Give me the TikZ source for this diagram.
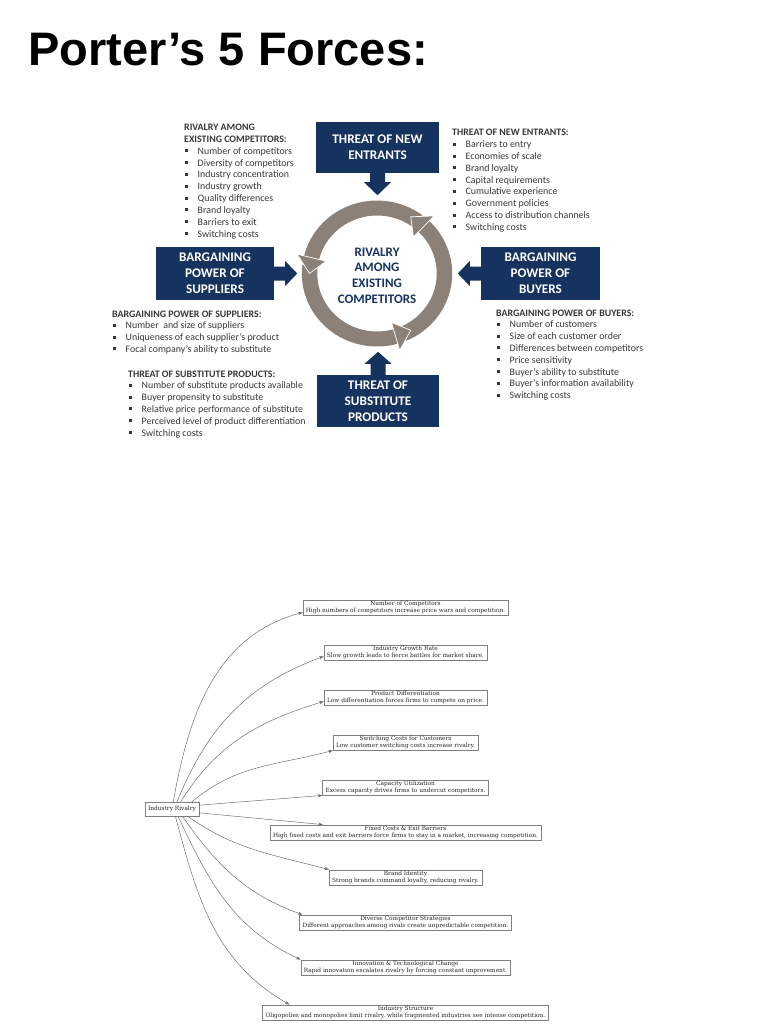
\documentclass[tikz,border=0pt]{standalone}
\usepackage{fontspec}
\setmainfont{Carlito}
\newfontfamily\titrefont{Liberation Sans}
\newfontfamily\gvfont{DejaVu Serif}
\usetikzlibrary{arrows.meta, calc}

\definecolor{marine}{RGB}{22,50,94}
\definecolor{anneau}{RGB}{140,129,121}
\newcommand{\puce}{\makebox[13.5pt][l]{\hspace{0.5pt}\rule[2pt]{3pt}{3pt}}}

\begin{document}
\begin{tikzpicture}[
  x=1pt, y=1pt,
  force/.style={
    fill=marine, text=white, font=\bfseries\fontsize{13.2}{16}\selectfont,
    align=center, inner sep=0pt, minimum width=122pt, minimum height=52pt
  },
  liste/.style={
    anchor=base west, inner sep=0pt, align=left,
    font=\fontsize{9.9}{11.8}\selectfont, text=black!78
  },
  cause/.style={
    draw=black!50, line width=0.5pt, fill=white, align=center,
    font=\gvfont\fontsize{5.85}{7.6}\selectfont, text=black!85,
    inner xsep=3pt, inner ysep=1pt
  },
  lien/.style={
    -{Stealth[length=4.5pt, width=3.2pt]},
    line width=0.45pt, draw=black!60
  },
  fleche/.style={fill=marine},
  segment/.style={fill=anneau},
  pointe/.style={fill=anneau, draw=white, line width=0.7pt}
]
  \useasboundingbox[fill=white] (0,0) rectangle (768,-1024);

  \node[anchor=base west, inner sep=0pt, font=\titrefont\bfseries\fontsize{47}{50}\selectfont] (titre) at (28,-66) {Porter’s 5 Forces:};

  % the five forces
  \node[force, minimum width=123pt, minimum height=51pt] (ent) at (377.5,-147.5) {THREAT OF NEW\\ENTRANTS};
  \node[force, minimum width=118pt, minimum height=53pt] (sup) at (215,-273.5) {BARGAINING\\POWER OF\\SUPPLIERS};
  \node[force, minimum width=119pt, minimum height=53pt] (buy) at (540.5,-273.5) {BARGAINING\\POWER OF\\BUYERS};
  \node[force] (sub) at (378,-401) {THREAT OF\\SUBSTITUTE\\PRODUCTS};

  \fill[fleche] (ent.south) ++(-7.5,0) -- ++(0,-9) -- ++(-6,0) -- ++(13.5,-13) -- ++(13.5,13) -- ++(-6,0) -- ++(0,9) -- cycle;
  \fill[fleche] (sub.north) ++(-7.5,0) -- ++(0,11) -- ++(-6,0) -- ++(13.5,12) -- ++(13.5,-12) -- ++(-6,0) -- ++(0,-11) -- cycle;
  \fill[fleche] (sup.east) ++(0,7) -- ++(11,0) -- ++(0,5.5) -- ++(12,-12.5) -- ++(-12,-12.5) -- ++(0,5.5) -- ++(-11,0) -- cycle;
  \fill[fleche] (buy.west) ++(0,7) -- ++(-11,0) -- ++(0,5.5) -- ++(-12,-12.5) -- ++(12,-12.5) -- ++(0,5.5) -- ++(11,0) -- cycle;

  % rivalry ring
  \begin{scope}[shift={(377,-273.5)}, xscale=1.03]
    \fill[segment] (-67:73) arc[start angle=-67, end angle=46, radius=73] -- (46:58) arc[start angle=46, end angle=-67, radius=58] -- cycle;
    \fill[segment] (53:73) arc[start angle=53, end angle=166, radius=73] -- (166:58) arc[start angle=166, end angle=53, radius=58] -- cycle;
    \fill[segment] (173:73) arc[start angle=173, end angle=286, radius=73] -- (286:58) arc[start angle=286, end angle=173, radius=58] -- cycle;
    \filldraw[pointe] (46:80) -- (60:65.5) -- (46:51) -- cycle;
    \filldraw[pointe] (166:80) -- (180:65.5) -- (166:51) -- cycle;
    \filldraw[pointe] (286:80) -- (300:65.5) -- (286:51) -- cycle;
  \end{scope}
  \node[font=\bfseries\fontsize{13}{15.7}\selectfont, text=marine, align=center, inner sep=0pt] (riv) at (377,-275.5) {RIVALRY\\AMONG\\EXISTING\\COMPETITORS};

  % factor lists (anchored on their last line)
  \node[liste] (lriv) at (184,-237) {\textbf{RIVALRY AMONG}\\\textbf{EXISTING COMPETITORS:}\\
    \puce Number of competitors\\\puce Diversity of competitors\\\puce Industry concentration\\
    \puce Industry growth\\\puce Quality differences\\\puce Brand loyalty\\
    \puce Barriers to exit\\\puce Switching costs};
  \node[liste] (lent) at (452,-230.4) {\textbf{THREAT OF NEW ENTRANTS:}\\
    \puce Barriers to entry\\\puce Economies of scale\\\puce Brand loyalty\\
    \puce Capital requirements\\\puce Cumulative experience\\\puce Government policies\\
    \puce Access to distribution channels\\\puce Switching costs};
  \node[liste] (lsup) at (112,-352.4) {\textbf{BARGAINING POWER OF SUPPLIERS:}\\
    \puce Number~ and size of suppliers\\\puce Uniqueness of each supplier’s product\\
    \puce Focal company’s ability to substitute};
  \node[liste] (lsub) at (128,-436) {\textbf{THREAT OF SUBSTITUTE PRODUCTS:}\\
    \puce Number of substitute products available\\\puce Buyer propensity to substitute\\
    \puce Relative price performance of substitute\\\puce Perceived level of product differentiation\\
    \puce Switching costs};
  \node[liste] (lbuy) at (496,-398.6) {\textbf{BARGAINING POWER OF BUYERS:}\\
    \puce Number of customers\\\puce Size of each customer order\\\puce Differences between competitors\\
    \puce Price sensitivity\\\puce Buyer’s ability to substitute\\\puce Buyer’s information availability\\
    \puce Switching costs};

  % industry rivalry tree
  \node[cause, minimum height=14pt, minimum width=54pt, inner xsep=2pt] (ir) at (172,-809) {Industry Rivalry};
  \node[cause] (nbc) at (405.5,-607.5) {Number of Competitors\\High numbers of competitors increase price wars and competition.};
  \node[cause] (grw) at (405.5,-652.5) {Industry Growth Rate\\Slow growth leads to fierce battles for market share.};
  \node[cause] (dif) at (405.5,-697.5) {Product Differentiation\\Low differentiation forces firms to compete on price.};
  \node[cause] (swc) at (405.5,-742.5) {Switching Costs for Customers\\Low customer switching costs increase rivalry.};
  \node[cause] (cpu) at (405.5,-787.5) {Capacity Utilization\\Excess capacity drives firms to undercut competitors.};
  \node[cause] (fix) at (405.5,-832.5) {Fixed Costs \& Exit Barriers\\High fixed costs and exit barriers force firms to stay in a market, increasing competition.};
  \node[cause] (brd) at (405.5,-877.5) {Brand Identity\\Strong brands command loyalty, reducing rivalry.};
  \node[cause] (dvs) at (405.5,-922.5) {Diverse Competitor Strategies\\Different approaches among rivals create unpredictable competition.};
  \node[cause] (inn) at (405.5,-967.5) {Innovation \& Technological Change\\Rapid innovation escalates rivalry by forcing constant improvement.};
  \node[cause] (stc) at (405.5,-1012.5) {Industry Structure\\Oligopolies and monopolies limit rivalry, while fragmented industries see intense competition.};

  \draw[lien] (ir.80) to[out=80, in=195] ([yshift=3pt]nbc.south west);
  \draw[lien] (ir.55) to[out=68, in=200] ([yshift=4pt]grw.south west);
  \draw[lien] (ir.40) to[out=58, in=197] ([yshift=4pt]dif.south west);
  \draw[lien] (ir.20) to[out=40, in=195] (swc.south west);
  \draw[lien] (ir.8) -- (cpu.south west);
  \draw[lien] (ir.-8) -- ([xshift=53pt]fix.north west);
  \draw[lien] (ir.-25) to[out=-35, in=165] (brd.north west);
  \draw[lien] (ir.-35) to[out=-55, in=160] ([xshift=3pt]dvs.north west);
  \draw[lien] (ir.-50) to[out=-65, in=155] (inn.north west);
  \draw[lien] (ir.-65) to[out=-75, in=150] ([xshift=27pt]stc.north west);
\end{tikzpicture}
\end{document}
